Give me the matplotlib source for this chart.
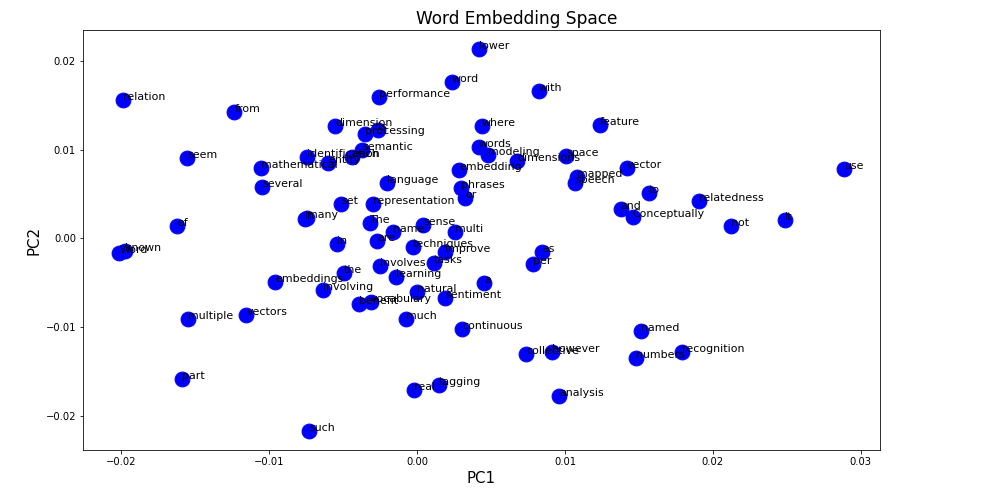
import matplotlib
matplotlib.use("Agg")
from matplotlib import pyplot as plt

# Words and their 2D PCA coordinates
words = ["relation", "from", "dimension", "seem", "mathematical", "identification",
         "entity", "each", "semantic", "several", "of", "many", "In", "set",
         "representation", "language", "The", "name", "sense", "are", "in",
         "techniques", "improve", "multi", "tasks", "involves", "the", "learning",
         "embeddings", "involving", "natural", "sentiment", "benefit", "vocabulary",
         "much", "a", "continuous", "as", "per", "collective", "however", "real",
         "tagging", "analysis", "multiple", "vectors", "part", "such", "Word",
         "known", "lower", "word", "performance", "with", "processing", "is",
         "where", "words", "modeling", "dimensions", "space", "embedding",
         "phrases", "or", "mapped", "speech", "feature", "vector", "to", "and",
         "Conceptually", "relatedness", "not", "It", "use", "named", "numbers",
         "recognition"]

pc1 = [-0.01986, -0.01236, -0.00554, -0.01554, -0.01054, -0.00743,
       -0.00601, -0.00439, -0.00372, -0.01047, -0.01622, -0.00743, -0.00760, -0.00514,
       -0.00297, -0.00203, -0.00318, -0.00162, 0.00041, -0.00270, -0.00540,
       -0.00027, 0.00189, 0.00257, 0.00115, -0.00250, -0.00493, -0.00142,
       -0.00959, -0.00635, 0.00000, 0.00189, -0.00392, -0.00311,
       -0.00074, 0.00453, 0.00304, 0.00845, 0.00784, 0.00736, 0.00912, -0.00020,
       0.00149, 0.00960, -0.01547, -0.01155, -0.01588, -0.00730, -0.02014,
       -0.01973, 0.00419, 0.00236, -0.00257, 0.00824, -0.00351, -0.00264,
       0.00439, 0.00419, 0.00480, 0.00676, 0.01007, 0.00284,
       0.00297, 0.00324, 0.01081, 0.01068, 0.01236, 0.01419, 0.01568, 0.01378,
       0.01459, 0.01905, 0.02122, 0.02486, 0.02885, 0.01514, 0.01480,
       0.01790]

pc2 = [0.01554, 0.01418, 0.01260, 0.00910, 0.00797, 0.00921,
       0.00853, 0.00921, 0.01000, 0.00582, 0.00141, 0.00232, 0.00220, 0.00390,
       0.00390, 0.00627, 0.00175, 0.00073, 0.00153, -0.00028, -0.00062,
       -0.00096, -0.00153, 0.00073, -0.00277, -0.00311, -0.00390, -0.00435,
       -0.00492, -0.00582, -0.00605, -0.00672, -0.00740, -0.00718,
       -0.00910, -0.00503, -0.01023, -0.00153, -0.00288, -0.01294, -0.01282, -0.01700,
       -0.01644, -0.01768, -0.00910, -0.00864, -0.01576, -0.02164, -0.00164,
       -0.00141, 0.02130, 0.01757, 0.01588, 0.01655, 0.01180, 0.01215,
       0.01260, 0.01034, 0.00944, 0.00876, 0.00932, 0.00774,
       0.00571, 0.00458, 0.00695, 0.00627, 0.01271, 0.00797, 0.00514, 0.00333,
       0.00243, 0.00424, 0.00141, 0.00209, 0.00785, -0.01045, -0.01339,
       -0.01271]

fig = plt.figure(figsize=(984 / 72, 493 / 72), dpi=72)
ax = fig.add_axes([0.0843, 0.0872, 0.81, 0.852])

ax.scatter(pc1, pc2, s=220, c="blue")
for i, w in enumerate(words):
    ax.annotate(w, (pc1[i], pc2[i]), fontsize=11)

ax.set_title("Word Embedding Space", fontsize=17, x=0.5445)
ax.set_xlabel("PC1", fontsize=15)
ax.set_ylabel("PC2", fontsize=15)

fig.savefig("out.png", dpi=72)
